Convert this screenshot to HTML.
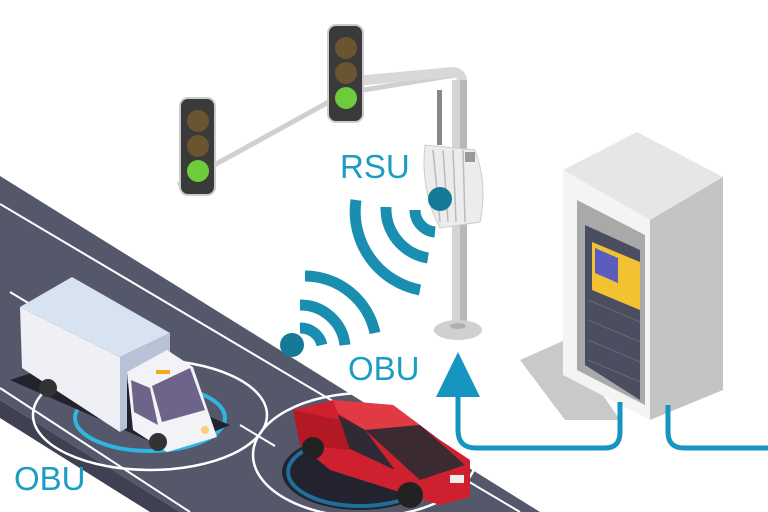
<!DOCTYPE html>
<html><head><meta charset="utf-8"><style>
html,body{margin:0;padding:0;background:#fff;}
svg{display:block;}
text{font-family:"Liberation Sans",sans-serif;}
</style></head><body>
<svg width="768" height="512" viewBox="0 0 768 512" xmlns="http://www.w3.org/2000/svg">
<rect width="768" height="512" fill="#fff"/>
<!-- road -->
<polygon points="0,176 540,512 180,512 0,400" fill="#55586b"/>
<polygon points="0,400 180,512 150,512 0,418" fill="#3f4152"/>
<line x1="0" y1="204" x2="520" y2="512" stroke="#fff" stroke-width="2"/>
<line x1="0" y1="388" x2="190" y2="512" stroke="#fff" stroke-width="2"/>
<line x1="10" y1="292" x2="40" y2="310" stroke="#fff" stroke-width="2"/>
<line x1="240" y1="425" x2="275" y2="446" stroke="#fff" stroke-width="2"/>
<!-- ellipses -->
<ellipse cx="150" cy="415" rx="117" ry="55" fill="none" stroke="#fff" stroke-width="2.5"/>
<ellipse cx="150" cy="418" rx="75" ry="33" fill="none" stroke="#2fb6e0" stroke-width="4"/>
<ellipse cx="365" cy="455" rx="112" ry="62" fill="none" stroke="#fff" stroke-width="2.5"/>
<ellipse cx="360" cy="472" rx="78" ry="38" fill="#22232e"/>
<ellipse cx="360" cy="472" rx="72" ry="34" fill="none" stroke="#1f6f9a" stroke-width="4"/>
<!-- truck -->
<polygon points="10,380 170,450 230,425 70,360" fill="#22232e"/>
<polygon points="20,307 72,277 170,333 120,357" fill="#d7e3f0"/>
<polygon points="20,307 120,357 120,432 22,368" fill="#eef0f6"/>
<polygon points="120,357 170,333 170,360 127,372 127,428 120,432" fill="#b8c2d6"/>
<polygon points="127,372 167,350 193,367 217,437 167,452 133,430" fill="#f2f2f7"/>
<polygon points="152,386 190,368 205,410 162,422" fill="#6e6489"/>
<polygon points="131,380 150,388 158,425 134,412" fill="#6e6489"/>
<rect x="156" y="370" width="14" height="4" fill="#f2a820"/>
<circle cx="48" cy="388" r="9" fill="#333"/>
<circle cx="158" cy="442" r="9" fill="#333"/>
<circle cx="205" cy="430" r="4" fill="#f3d27a"/>
<!-- car -->
<polygon points="293,410 333,400 393,405 440,440 470,460 470,497 440,505 330,470 300,445" fill="#cf2030"/>
<polygon points="333,400 393,405 420,425 365,430 338,413" fill="#e23a44"/>
<polygon points="338,415 365,430 395,470 348,448" fill="#2f2a33"/>
<polygon points="365,430 420,425 465,465 420,480" fill="#3c2a32"/>
<polygon points="293,410 340,420 350,450 300,445" fill="#b31825"/>
<rect x="450" y="475" width="14" height="8" fill="#eee"/>
<circle cx="313" cy="448" r="11" fill="#222"/>
<circle cx="410" cy="495" r="13" fill="#222"/>
<!-- traffic lights arm -->
<polyline points="178,185 345,93 455,75" fill="none" stroke="#d0d0d0" stroke-width="5"/>
<path d="M345,82 L452,72 Q462,72 462,82 L462,100" fill="none" stroke="#d8d8d8" stroke-width="10"/>
<rect x="328" y="25" width="35" height="97" rx="8" fill="#3a3a3a" stroke="#ccc" stroke-width="2"/>
<circle cx="346" cy="48" r="11" fill="#6a5530"/><circle cx="346" cy="73" r="11" fill="#6a5530"/><circle cx="346" cy="98" r="11" fill="#6ecb3a"/>
<rect x="180" y="98" width="35" height="97" rx="8" fill="#3a3a3a" stroke="#ccc" stroke-width="2"/>
<circle cx="198" cy="121" r="11" fill="#6a5530"/><circle cx="198" cy="146" r="11" fill="#6a5530"/><circle cx="198" cy="171" r="11" fill="#6ecb3a"/>
<!-- pole -->
<rect x="452" y="80" width="15" height="250" fill="#d4d4d4"/>
<rect x="460" y="80" width="7" height="250" fill="#b8b8b8"/>
<ellipse cx="458" cy="330" rx="24" ry="10" fill="#d0d0d0"/>
<ellipse cx="458" cy="326" rx="8" ry="3" fill="#b0b0b0"/>
<rect x="437" y="90" width="5" height="55" fill="#888"/>
<!-- RSU box -->
<path d="M425,145 L475,150 Q488,185 480,222 L440,228 Q420,190 425,145Z" fill="#ececec" stroke="#ccc"/>
<g stroke="#bbb" stroke-width="1.5"><line x1="433" y1="150" x2="440" y2="222"/><line x1="443" y1="150" x2="448" y2="222"/><line x1="453" y1="150" x2="456" y2="222"/><line x1="463" y1="150" x2="465" y2="222"/></g>
<rect x="465" y="152" width="10" height="10" fill="#999"/>
<!-- waves -->
<g fill="none" stroke="#1a8eb0" stroke-width="11">
<path d="M415,210 A22,22 0 0 0 435,232"/>
<path d="M386,207 A50,50 0 0 0 428,258"/>
<path d="M356,200 A80,80 0 0 0 420,290"/>
<path d="M300,328 A22,22 0 0 1 322,345"/>
<path d="M300,305 A45,45 0 0 1 345,345"/>
<path d="M305,276 A72,72 0 0 1 375,333"/>
</g>
<circle cx="440" cy="199" r="12" fill="#147a98"/>
<circle cx="292" cy="345" r="12" fill="#147a98"/>
<!-- cabinet -->
<polygon points="520,360 565,340 620,420 565,420" fill="#c9c9c9"/>
<polygon points="563,170 637,132 723,177 650,220" fill="#e6e6e6"/>
<polygon points="563,170 650,220 650,420 563,375" fill="#f4f4f4"/>
<polygon points="650,220 723,177 723,390 650,420" fill="#c4c4c4"/>
<polygon points="577,200 645,235 645,405 577,370" fill="#a9a9a9"/>
<polygon points="585,225 640,250 640,400 585,365" fill="#4a4e60"/>
<polygon points="592,242 640,262 640,310 592,290" fill="#f2c232"/>
<polygon points="595,248 618,258 618,283 595,273" fill="#5a5cc0"/>
<g stroke="#6a6a6a" stroke-width="1"><line x1="588" y1="300" x2="640" y2="322"/><line x1="588" y1="320" x2="640" y2="342"/><line x1="588" y1="340" x2="640" y2="362"/><line x1="588" y1="360" x2="640" y2="382"/></g>
<!-- cables -->
<g fill="none" stroke="#1595c0" stroke-width="5">
<path d="M458,395 L458,430 Q458,448 476,448 L605,448 Q620,448 620,432 L620,402"/>
<path d="M668,405 L668,432 Q668,448 684,448 L768,448"/>
</g>
<polygon points="458,352 436,397 480,397" fill="#1595c0"/>
<!-- labels -->
<text x="340" y="178" font-size="33" fill="#1a9cc4">RSU</text>
<text x="348" y="380" font-size="33" fill="#1a9cc4">OBU</text>
<text x="14" y="490" font-size="33" fill="#1a9cc4">OBU</text>
</svg>
</body></html>
